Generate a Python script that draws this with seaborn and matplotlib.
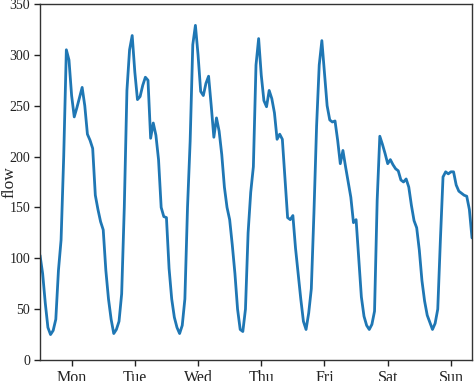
import matplotlib
matplotlib.use("Agg")
import matplotlib.pyplot as plt
import seaborn as sns
import numpy as np
import pandas as pd

# hourly flow values, Monday 00:00 onwards
flow = [
    103, 85, 56, 32, 25, 29, 40, 88, 118, 200,
    305, 295, 260, 239, 248, 258, 268, 250, 222, 216,
    208, 162, 148, 136, 128, 88, 60, 40, 26, 30,
    38, 65, 150, 265, 305, 319, 283, 256, 259, 270,
    278, 275, 218, 233, 221, 197, 150, 141, 140, 90,
    60, 42, 32, 26, 34, 60, 150, 215, 310, 329,
    300, 264, 260, 272, 279, 250, 219, 238, 225, 202,
    170, 150, 138, 113, 85, 50, 30, 28, 50, 125,
    165, 190, 290, 316, 280, 255, 249, 265, 257, 243,
    217, 222, 217, 178, 140, 138, 142, 110, 85, 60,
    38, 30, 46, 70, 145, 230, 290, 314, 282, 250,
    236, 234, 235, 216, 193, 206, 190, 175, 160, 135,
    138, 100, 62, 43, 34, 30, 35, 48, 157, 220,
    212, 203, 193, 197, 192, 188, 186, 177, 175, 178,
    170, 152, 137, 130, 108, 78, 58, 44, 37, 30,
    36, 50, 118, 180, 185, 183, 185, 185, 172, 166,
    164, 162, 161, 148, 120,
]
hours = list(range(len(flow)))
day_labels = ["Mon", "Tue", "Wed", "Thu", "Fri", "Sat", "Sun"]
day_ticks = [12, 36, 60, 84, 108, 132, 156]
yticks = [0, 50, 100, 150, 200, 250, 300, 350]

df = pd.DataFrame({"hour": hours, "flow": flow})

sns.set_style("ticks")
plt.rcParams["font.family"] = ["Liberation Serif", "DejaVu Serif"]

fig = plt.figure(figsize=(4.74, 3.81), dpi=100)
ax = fig.add_axes([40 / 474, 21 / 381, 432 / 474, 356 / 381])
sns.lineplot(data=df, x="hour", y="flow", ax=ax, color="#1f77b4", linewidth=2)

ax.set_xlim(0, len(flow) - 1)
ax.set_ylim(0, 350)
ax.set_xticks(day_ticks)
ax.set_xticklabels(day_labels, fontsize=11.5)
ax.set_yticks(yticks)
ax.set_yticklabels([str(v) for v in yticks], fontsize=10)
ax.set_xlabel("")
ax.set_ylabel("flow", fontsize=12.5)
ax.yaxis.set_label_coords(-0.052, 0.5)
for s in ax.spines.values():
    s.set_color("#333333")
    s.set_linewidth(1.0)
ax.tick_params(length=4, width=1, colors="#222222", pad=3)

fig.savefig("out.png", dpi=100)
